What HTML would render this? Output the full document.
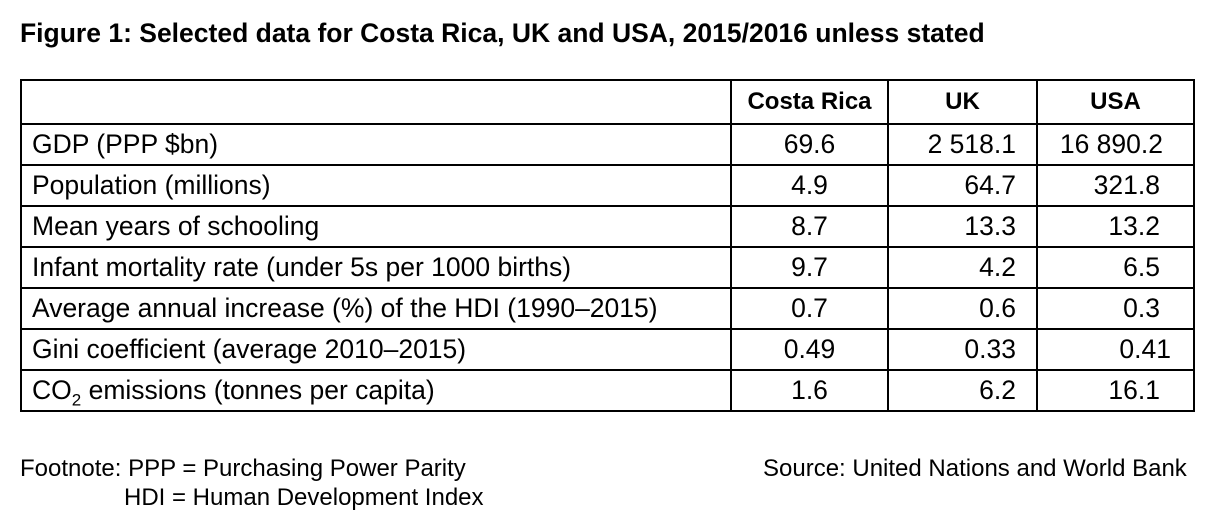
<!DOCTYPE html>
<html><head><style>
body{margin:0;width:1220px;height:531px;background:#fff;font-family:"Liberation Sans",Arial,sans-serif;color:#000;position:relative;overflow:hidden}
.t{position:absolute;left:20px;top:18px;font-weight:bold;font-size:26.5px}
table{position:absolute;left:20px;top:79px;border-collapse:collapse}
td{border:2px solid #000;height:39px;font-size:26.5px;padding:0 10px;white-space:nowrap}
td.n{text-align:center}
td.u{text-align:right;padding-right:20px}
td.s{text-align:right;padding-right:33px}
th{border:2px solid #000;height:40px;font-size:24px;font-weight:bold;text-align:center}
.f{position:absolute;font-size:24px}
</style></head><body>
<div class="t">Figure 1: Selected data for Costa Rica, UK and USA, 2015/2016 unless stated</div>
<table>
<colgroup><col style="width:710px"><col style="width:157px"><col style="width:149px"><col style="width:157px"></colgroup>
<tr><th></th><th>Costa Rica</th><th>UK</th><th>USA</th></tr>
<tr><td>GDP (PPP $bn)</td><td class="n">69.6</td><td class="u">2 518.1</td><td class="s" style="padding-right:30px">16 890.2</td></tr>
<tr><td>Population (millions)</td><td class="n">4.9</td><td class="u">64.7</td><td class="s">321.8</td></tr>
<tr><td>Mean years of schooling</td><td class="n">8.7</td><td class="u">13.3</td><td class="s">13.2</td></tr>
<tr><td>Infant mortality rate (under 5s per 1000 births)</td><td class="n">9.7</td><td class="u">4.2</td><td class="s">6.5</td></tr>
<tr><td>Average annual increase (%) of the HDI (1990–2015)</td><td class="n">0.7</td><td class="u">0.6</td><td class="s">0.3</td></tr>
<tr><td>Gini coefficient (average 2010–2015)</td><td class="n">0.49</td><td class="u">0.33</td><td class="s" style="padding-right:22px">0.41</td></tr>
<tr><td>CO<sub style="font-size:17px;line-height:0">2</sub> emissions (tonnes per capita)</td><td class="n">1.6</td><td class="u">6.2</td><td class="s">16.1</td></tr>
</table>
<div class="f" style="left:20px;top:455px">Footnote: PPP = Purchasing Power Parity</div>
<div class="f" style="left:124px;top:484px">HDI = Human Development Index</div>
<div class="f" style="left:763px;top:455px">Source: United Nations and World Bank</div>
</body></html>
